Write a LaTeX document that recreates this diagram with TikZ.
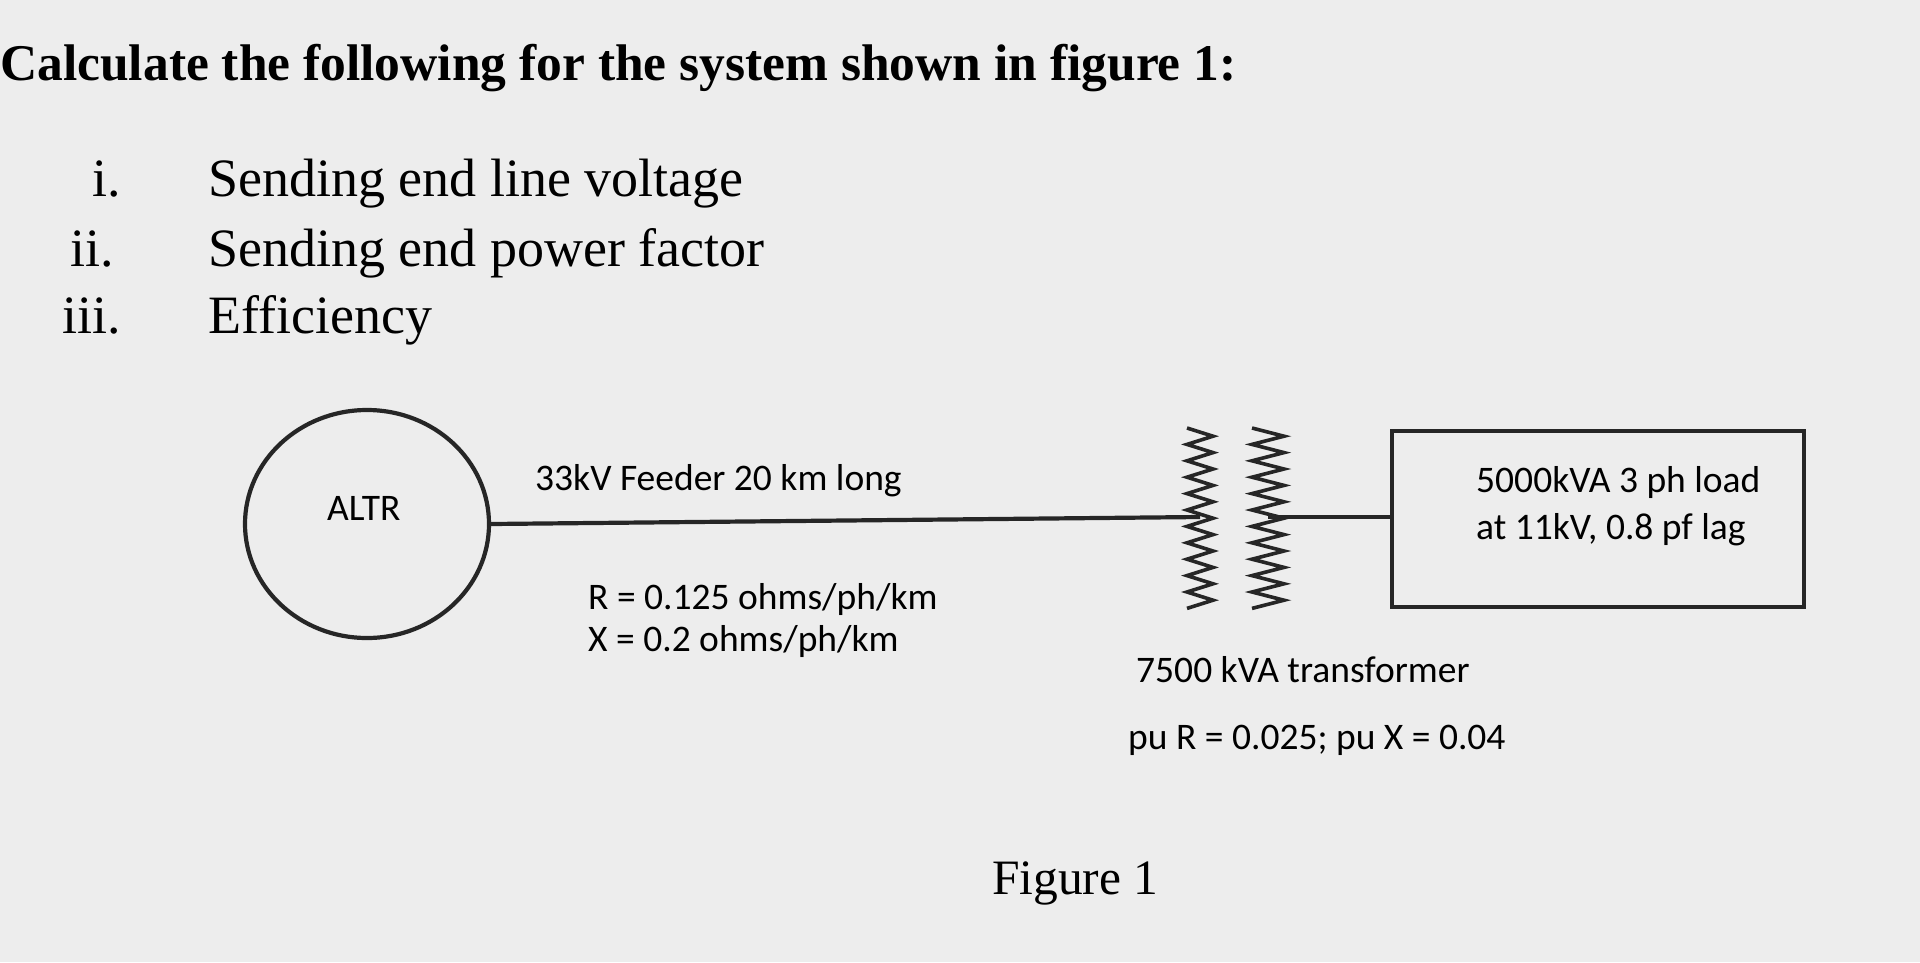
\documentclass[tikz,border=0pt]{standalone}
\usepackage{fontspec}
\usetikzlibrary{shapes.geometric}
\setmainfont{Liberation Serif}
\newfontfamily\calfont{Carlito}
\begin{document}
\begin{tikzpicture}[x=1pt,y=-1pt,
  wire/.style={line width=4.2pt,draw=black!85},
  lbl/.style={anchor=base west,inner sep=0pt,font=\calfont\fontsize{37.5}{44}\selectfont},
  ser/.style={anchor=base west,inner sep=0pt,font=\fontsize{54}{62}\selectfont}]
\fill[gray!14] (0,0) rectangle (1920,962);
\useasboundingbox (0,0) rectangle (1920,962);
\node[ser,font=\bfseries\fontsize{51.5}{60}\selectfont] (t) at (0,80) {Calculate the following for the system shown in figure 1:};
\node[ser] (i1) at (92,196) {i.};
\node[ser] (s1) at (208,196) {Sending end line voltage};
\node[ser] (i2) at (70,266) {ii.};
\node[ser] (s2) at (208,266) {Sending end power factor};
\node[ser] (i3) at (62,333) {iii.};
\node[ser] (s3) at (208,333) {Efficiency};
\node[draw,wire,ellipse,minimum width=244,minimum height=228,inner sep=0pt] (g) at (367,524) {};
\node[lbl] (gl) at (327,520) {ALTR};
\coordinate (p1) at (1200,517);
\coordinate (p2) at (1268,517);
\draw[wire] (g.east) -- (p1);
\draw[wire,line width=3.6pt] (1187,428) \foreach \k in {1,...,11}{ -- (1213,{428+16.4*\k-8.2}) -- (1187,{428+16.4*\k})};
\draw[wire,line width=3.6pt] (1252,428) \foreach \k in {1,...,11}{ -- (1284,{428+16.4*\k-8.2}) -- (1252,{428+16.4*\k})};
\node[draw,wire,minimum width=412,minimum height=176,inner sep=0pt] (ld) at (1598,519) {};
\draw[wire] (p2) -- (ld.west |- p2);
\node[lbl] (f) at (535,490) {33kV Feeder 20 km long};
\node[lbl] (r) at (588,609) {R = 0.125 ohms/ph/km};
\node[lbl] (x) at (588,651) {X = 0.2 ohms/ph/km};
\node[lbl] (l1) at (1476,492) {5000kVA 3 ph load};
\node[lbl] (l2) at (1476,539) {at 11kV, 0.8 pf lag};
\node[lbl] (tr) at (1136,682) {7500 kVA transformer};
\node[lbl] (pu) at (1128,749) {pu R = 0.025; pu X = 0.04};
\node[ser,font=\fontsize{49.5}{58}\selectfont] (fig) at (992,894) {Figure 1};
\end{tikzpicture}
\end{document}
